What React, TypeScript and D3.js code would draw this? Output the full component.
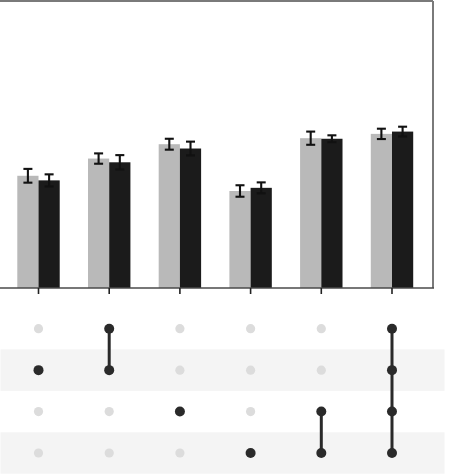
import React from "react";
import * as d3 from "d3";

// intersections (bar groups) and which set rows they use
const combos = ["B", "A&B", "C", "D", "C&D", "A&B&C&D"];
const setRows = ["A", "B", "C", "D"];
const members = [[1], [0, 1], [2], [3], [2, 3], [0, 1, 2, 3]];

// two series per intersection
const seriesKeys = ["light", "dark"];
const lightValues = [39.1, 45.1, 50.1, 33.8, 52.2, 53.7];
const lightErrors = [2.4, 1.8, 1.9, 2.0, 2.3, 1.8];
const darkValues = [37.5, 43.8, 48.6, 34.9, 52.0, 54.5];
const darkErrors = [2.1, 2.5, 2.4, 1.9, 1.2, 1.7];

const W = 474,
  H = 474;
const plot = { left: -2.5, right: 433, top: 1, bottom: 288 };
const color = d3.scaleOrdinal<string, string>().domain(seriesKeys).range(["#b9b9b9", "#1b1b1b"]);

export default function App(): JSX.Element {
  const x = d3
    .scaleBand()
    .domain(combos)
    .range([plot.left, plot.right])
    .paddingInner(0)
    .paddingOuter(0.08);

  const groupW = x.bandwidth() * 0.6;
  const x1 = d3.scaleBand().domain(seriesKeys).range([-groupW / 2, groupW / 2]);

  const y = d3.scaleLinear().domain([0, 100]).range([plot.bottom, plot.top]);

  const rowY = d3
    .scalePoint()
    .domain(setRows)
    .range([328.7, 453]);
  const rowStep = rowY.step();

  const cx = (c: string) => (x(c) as number) + x.bandwidth() / 2;

  const bars = combos.flatMap((c, i) => [
    { c, key: "light", v: lightValues[i], e: lightErrors[i] },
    { c, key: "dark", v: darkValues[i], e: darkErrors[i] },
  ]);

  return (
    <svg
      width={W}
      height={H}
      style={{ position: "absolute", left: 0, top: 0, background: "#fff" }}
    >
      {/* shaded bands behind every other row */}
      {setRows.map((r, i) =>
        i % 2 === 1 ? (
          <rect
            key={r}
            x={0.5}
            y={(rowY(r) as number) - rowStep / 2}
            width={444}
            height={rowStep}
            fill="#f4f4f4"
          />
        ) : null
      )}

      {/* bars */}
      {bars.map((b, i) => (
        <rect
          key={i}
          x={cx(b.c) + (x1(b.key) as number)}
          y={y(b.v)}
          width={x1.bandwidth()}
          height={y(0) - y(b.v)}
          fill={color(b.key)}
        />
      ))}

      {/* error bars */}
      {bars.map((b, i) => {
        const mx = cx(b.c) + (x1(b.key) as number) + x1.bandwidth() / 2;
        const capHalf = 4.5;
        return (
          <g key={"e" + i} stroke="#111" strokeWidth={2.1}>
            <line x1={mx} x2={mx} y1={y(b.v + b.e)} y2={y(b.v - b.e)} />
            <line x1={mx - capHalf} x2={mx + capHalf} y1={y(b.v + b.e)} y2={y(b.v + b.e)} />
            <line x1={mx - capHalf} x2={mx + capHalf} y1={y(b.v - b.e)} y2={y(b.v - b.e)} />
          </g>
        );
      })}

      {/* frame */}
      <line x1={plot.left} x2={plot.right} y1={plot.top} y2={plot.top} stroke="#7a7a7a" strokeWidth={2} />
      <line x1={plot.right} x2={plot.right} y1={plot.top} y2={plot.bottom} stroke="#7a7a7a" strokeWidth={2} />
      <line x1={plot.left} x2={plot.right + 1} y1={plot.bottom} y2={plot.bottom} stroke="#4a4a4a" strokeWidth={1.6} />
      {combos.map((c) => (
        <line key={"t" + c} x1={cx(c)} x2={cx(c)} y1={plot.bottom} y2={plot.bottom + 6} stroke="#222" strokeWidth={1.6} />
      ))}

      {/* matrix */}
      {combos.map((c, i) => {
        const used = members[i];
        const ys = used.map((k) => rowY(setRows[k]) as number);
        return (
          <g key={"m" + c}>
            {setRows.map((r, k) =>
              used.includes(k) ? null : (
                <circle key={r} cx={cx(c)} cy={rowY(r)} r={4.6} fill="#dcdcdc" />
              )
            )}
            {used.length > 1 && (
              <line
                x1={cx(c)}
                x2={cx(c)}
                y1={d3.min(ys)}
                y2={d3.max(ys)}
                stroke="#2a2a2a"
                strokeWidth={3}
              />
            )}
            {used.map((k) => (
              <circle key={k} cx={cx(c)} cy={rowY(setRows[k])} r={5} fill="#2a2a2a" />
            ))}
          </g>
        );
      })}
    </svg>
  );
}
